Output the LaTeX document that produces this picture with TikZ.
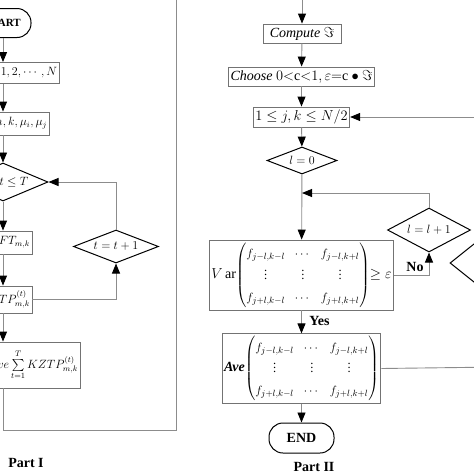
\documentclass[tikz,border=0pt]{standalone}
\usepackage{amsmath}
\usepackage{fontspec}
\setmainfont{Liberation Serif}
\usetikzlibrary{arrows.meta, positioning, shapes.geometric}
\colorlet{framegray}{black!55}
\colorlet{linegray}{black!45}
\tikzset{
    node style/.style={draw=framegray, line width=0.9pt, rectangle, inner sep=2pt, text centered, font=\fontsize{14}{16}\selectfont},
    cut style/.style={node style, align=right, font=\fontsize{12}{14}\selectfont},
    matrix box/.style={node style, font=\fontsize{12.5}{15}\selectfont\def\arraystretch{1.45}},
    decision style/.style={draw, diamond, line width=1pt, inner sep=0pt, text centered, font=\fontsize{13}{15}\selectfont,
        execute at begin node=\hbox to 0pt\bgroup\hss, execute at end node=\hss\egroup},
    terminal style/.style={draw, rectangle, rounded corners=14pt, line width=1pt, text centered, font=\bfseries\fontsize{14}{16}\selectfont},
    arrow style/.style={draw=linegray, line width=0.9pt, -{Triangle[length=10pt, width=8pt, color=black]}},
    line style/.style={draw=linegray, line width=0.9pt},
    label style/.style={font=\bfseries\fontsize{14}{16}\selectfont},
}
\newcommand{\bigtext}[1]{{\fontsize{14}{16}\selectfont#1}}

\begin{document}
\begin{tikzpicture}[x=1pt, y=-1pt]
        \useasboundingbox (0,0) rectangle (474,474);
        \clip (0,0) rectangle (474,474);
        % Part I
        \node (start) [terminal style, minimum width=56pt, minimum height=29pt, font=\bfseries\fontsize{11}{13}\selectfont] at (3,23) {START};
        \node (input) [cut style, text width=108pt, minimum height=21pt] at (3,73) {$i=1,2,\cdots,N$};
        \node (param) [cut style, text width=88pt, minimum height=23pt] at (3,123.5) {$m,k,\mu_i,\mu_j$};
        \node (tcheck) [decision style, minimum width=90pt, minimum height=38pt] at (3,182) {$1\le t\le T$};
        \node (kzft) [cut style, text width=54pt, minimum height=23pt] at (3,242.5) {$KZFT_{m,k}$};
        \node (kztp) [cut style, text width=54pt, minimum height=27pt] at (3,299.5) {$KZTP_{m,k}^{(t)}$};
        \node (tinc) [decision style, minimum width=85pt, minimum height=33pt] at (116,246.5) {$t=t+1$};
        \node (avg) [cut style, text width=150pt, minimum height=46pt] at (3,365) {$Ave\sum\limits_{t=1}^{T}KZTP_{m,k}^{(t)}$};
        \node (part1) [label style] at (26,463) {Part I};

        % Part II
        \node (compute) [node style, minimum width=78pt, minimum height=19pt] at (302,33.5) {\textit{Compute} $\Im$};
        \node (choose) [node style, minimum width=135pt, minimum height=19pt] at (301.5,76.5) {\textit{Choose} $0{<}\mathrm{c}{<}1,\varepsilon{=}\mathrm{c}\bullet\Im$};
        \node (jk) [node style, minimum width=87pt, minimum height=20pt] at (301.5,117) {$1\le j,k\le N/2$};
        \node (lzero) [decision style, minimum width=70pt, minimum height=27pt] at (302,160.5) {$l=0$};
        \coordinate (merge) at (302,193);
        \node (var) [matrix box, minimum width=177pt, minimum height=70pt] at (301.5,275)
            {\bigtext{$V\,\mathrm{ar}$}$\begin{pmatrix} f_{j-l,k-l} & \cdots & f_{j-l,k+l}\\ \vdots & \vdots & \vdots\\ f_{j+l,k-l} & \cdots & f_{j+l,k+l}\end{pmatrix}$\bigtext{$\ge\varepsilon$}};
        \node (linc) [decision style, minimum width=83pt, minimum height=44pt] at (429,230) {$l=l+1$};
        \node (jkcheck) [decision style, minimum width=100pt, minimum height=80pt] at (500,263) {};
        \node (ave) [matrix box, minimum width=153pt, minimum height=69pt] at (301.5,368.5)
            {\bigtext{\textbf{\textit{Ave}}}$\begin{pmatrix} f_{j-l,k-l} & \cdots & f_{j-l,k+l}\\ \vdots & \vdots & \vdots\\ f_{j+l,k-l} & \cdots & f_{j+l,k+l}\end{pmatrix}$};
        \node (stop) [terminal style, minimum width=65pt, minimum height=30pt] at (301.5,438) {END};
        \node (part2) [label style] at (314,467) {Part II};
        \coordinate (jkin) at (500,117);
        \coordinate (aveout) at (500,367);

        \draw [arrow style] (start) -- (input);
        \draw [arrow style] (input) -- (param);
        \draw [arrow style] (param) -- (tcheck);
        \draw [arrow style] (tcheck) -- (kzft);
        \draw [arrow style] (kzft) -- (kztp);
        \draw [arrow style] (kztp) -- (avg);
        \draw [arrow style] (kztp.east) -| (tinc.south);
        \draw [arrow style] (tinc.north) |- (tcheck.east);
        \draw [arrow style] (avg.south) |- (176,430) |- ([yshift=30pt]compute.north) -- (compute.north);

        \draw [arrow style] (compute) -- (choose);
        \draw [arrow style] (choose) -- (jk);
        \draw [arrow style] (jkin) -- (jk);
        \draw [arrow style] (jk) -- (lzero);
        \draw [arrow style] (lzero) -- (var);
        \draw [arrow style] (var.east) -| node[label style, above, pos=0.3] {No} (linc.south);
        \draw [arrow style] (linc.north) |- (merge);
        \draw [arrow style] (var) -- node[label style, right, pos=0.45, xshift=4pt] {Yes} (ave);
        \draw [line style] (ave.east) -- (aveout);
        \draw [arrow style] (ave) -- (stop);
    \end{tikzpicture}
\end{document}
